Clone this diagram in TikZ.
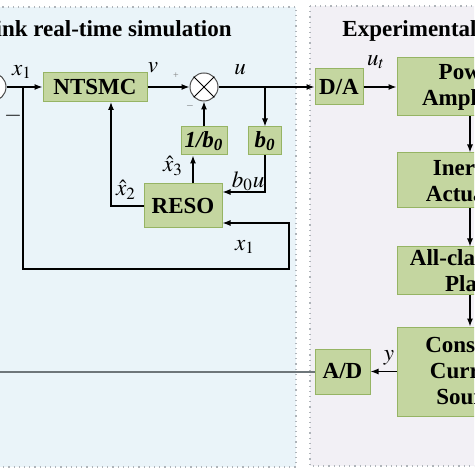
\documentclass[tikz,border=0pt]{standalone}
\usepackage{mathptmx}
\usepackage{fontspec}
\setmainfont{Liberation Serif}
\usetikzlibrary{arrows.meta}
\definecolor{boxgreen}{RGB}{196,214,160}
\definecolor{boxedge}{RGB}{150,180,100}
\definecolor{simblue}{RGB}{234,244,249}
\definecolor{expgray}{RGB}{242,240,245}
\definecolor{panelline}{RGB}{175,180,185}
\definecolor{outline}{RGB}{110,118,122}
\newcommand{\diasize}{\fontsize{11.5}{13}\selectfont}
\tikzset{
  block/.style={draw=boxedge, fill=boxgreen, line width=0.5pt, inner sep=0pt, align=center, font=\diasize\bfseries},
  junction/.style={circle, draw=gray!60!black, fill=white, minimum size=14pt, inner sep=0pt, line width=0.5pt},
  sigline/.style={-{Latex[length=4pt,width=3pt]}, line width=0.6pt},
  panel/.style={draw=panelline, dotted, line width=0.6pt},
  lab/.style={inner sep=0pt, font=\diasize}
}

\begin{document}
\begin{tikzpicture}[x=0.5pt, y=-0.5pt]
\useasboundingbox (0,0) rectangle (474,474);
\clip (0,0) rectangle (474,474);
\fill[white] (0,0) rectangle (474,474);
% panels
\filldraw[panel, fill=simblue] (-10,7) rectangle (296,467);
\filldraw[panel, fill=expgray] (310,6) rectangle (490,466);
\node[anchor=base east, inner sep=0pt, font=\diasize\bfseries] (simtitle) at (232,37) {Simulink real-time simulation};
\node[anchor=base west, inner sep=0pt, font=\diasize\bfseries] (exptitle) at (342,37) {Experimental platform};

% simulation side
\node[junction] (sumin) at (-8,87) {};
\node[block, minimum width=52pt, minimum height=14.5pt] (ntsmc) at (95,87) {NTSMC};
\node[junction] (sum) at (204,87) {};
\draw[line width=0.5pt] (sum.north west) -- (sum.south east);
\draw[line width=0.5pt] (sum.north east) -- (sum.south west);
\node[block, minimum width=23pt, minimum height=14pt] (invb) at (204,141) {\itshape 1/b\textsubscript{0}};
\node[block, minimum width=16.5pt, minimum height=14pt] (bzero) at (265,141) {\itshape b\textsubscript{0}};
\node[block, minimum width=39pt, minimum height=22pt] (reso) at (183,206) {RESO};

% experimental side
\node[block, minimum width=24pt, minimum height=18pt] (da) at (339,87) {D/A};
\node[block, minimum width=27.5pt, minimum height=22.5pt] (ad) at (342.5,371.5) {A/D};
\node[block, minimum width=73pt, minimum height=29pt] (amp) at (470,87) {Power\\Amplifier};
\node[block, minimum width=73pt, minimum height=27.5pt] (act) at (470,180.5) {Inertial\\Actuator};
\node[block, minimum width=73pt, minimum height=24pt] (plate) at (470,271) {All-clamped\\Plate};
\node[block, minimum width=73pt, minimum height=44.5pt] (src) at (470,371.5) {Constant\\Current\\Source};

\coordinate (fb) at (23,87);
\coordinate (fbc) at (289,269);
\coordinate (fbin) at (289,223);
\coordinate (ubr) at (265,87);
\coordinate (outl) at (-10,371.5);

\draw[sigline] (sumin) -- (ntsmc);
\draw[sigline] (ntsmc) -- (sum);
\draw[sigline] (sum) -- (da);
\draw[sigline] (da) -- (amp);
\draw[sigline] (amp) -- (act);
\draw[sigline] (act) -- (plate);
\draw[sigline] (plate) -- (src);
\draw[sigline] (src) -- (ad);
\draw[line width=1pt, draw=outline] (ad) -- (outl);
\draw[sigline] (ubr) -- (bzero);
\draw[sigline] (bzero) |- ([yshift=7pt]reso.east);
\draw[sigline] (fb) |- (fbc) -- (fbin) -- (fbin -| reso.east);
\draw[sigline] ([xshift=5pt]reso.north) -- ([xshift=5pt]reso.north |- invb.south);
\draw[sigline] (invb) -- (sum);
\draw[sigline] (reso.west) -| ([xshift=8pt]ntsmc.south);

% labels
\node[lab] (lx1) at (22,72) {$x_1$};
\node[lab] (lmin) at (13,116) {$-$};
\node[lab] (lv) at (153,68) {$v$};
\node[lab, font=\tiny, text=gray] (lplus) at (176,76) {+};
\node[lab, font=\tiny, text=gray!60!black] (lmin2) at (190,106) {$-$};
\node[lab] (lu) at (240,70) {$u$};
\node[lab] (lx3) at (173,166) {$\hat{x}_3$};
\node[lab] (lx2) at (126,190) {$\hat{x}_2$};
\node[lab] (lbu) at (248,181) {$b_0u$};
\node[lab] (lx1b) at (245,247) {$x_1$};
\node[lab] (lut) at (376,62) {$u_t$};
\node[lab] (ly) at (389,358) {$y$};
\end{tikzpicture}
\end{document}
